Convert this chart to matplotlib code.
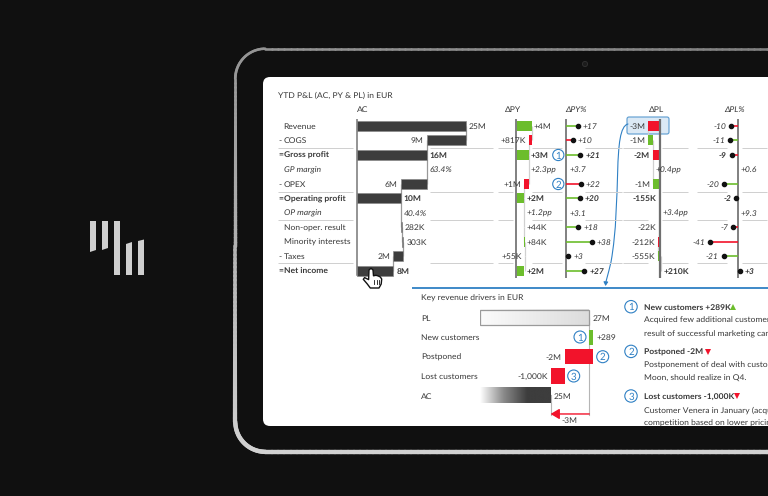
import numpy as np
import matplotlib
matplotlib.use('Agg')
import matplotlib.pyplot as plt
from matplotlib.collections import LineCollection
from matplotlib.patches import Circle, FancyArrowPatch, FancyBboxPatch, Polygon
from matplotlib.path import Path
from matplotlib.colors import LinearSegmentedColormap

plt.rcParams['font.family'] = ['Lato', 'DejaVu Sans']
plt.rcParams['text.hinting'] = 'no_hinting'
FS = 6.1

W, H = 768, 496
BG = '#101010'
TXT = '#383838'
GREEN = '#6cbd2c'
RED = '#f2132b'
BLUE = '#2f80c4'
DARK = '#3d3d3d'
NO = 'none'
VA = 'center_baseline'

# P&L table
categories = ['Revenue', 'COGS', 'Gross profit', 'GP margin', 'OPEX', 'Operating profit',
              'OP margin', 'Non-oper. result', 'Minority interests', 'Taxes', 'Net income']
prefixes = ['', '-', '=', '', '-', '=', '', '', '', '-', '=']
is_total = [True, False, True, False, False, True, False, False, False, False, True]
is_bold = [False, False, True, False, False, True, False, False, False, False, True]
is_margin = [False, False, False, True, False, False, True, False, False, False, False]

ac_values = [25, -9, 16, np.nan, -6, 10, np.nan, 0.282, 0.303, -2.3, 8.3]
ac_labels = ['25M', '9M', '16M', '63.4%', '6M', '10M', '40.4%', '282K', '303K', '2M', '8M']

py_values = [4, -0.817, 3.18, np.nan, -1.1, 2.08, np.nan, 0.044, 0.084, -0.055, 2.1]
py_colors = [GREEN, RED, GREEN, NO, RED, GREEN, NO, GREEN, GREEN, RED, GREEN]
py_labels = ['+4M', '+817K', '+3M', '+2.3pp', '+1M', '+2M', '+1.2pp', '+44K', '+84K', '+55K', '+2M']

py_pct = [17, 10, 21, np.nan, 22, 20, np.nan, 18, 38, 3, 27]
py_pct_colors = [GREEN, RED, GREEN, NO, RED, GREEN, NO, GREEN, GREEN, RED, GREEN]
py_pct_labels = ['+17', '+10', '+21', '+3.7', '+22', '+20', '+3.1', '+18', '+38', '+3', '+27']

pl_values = [-3, 1.25, -1.75, np.nan, 1.6, -0.155, np.nan, -0.022, -0.212, 0.6, 0.21]
pl_colors = [RED, GREEN, RED, NO, GREEN, RED, NO, RED, RED, GREEN, GREEN]
pl_labels = ['-3M', '-1M', '-2M', '+0.4pp', '-1M', '-155K', '+3.4pp', '-22K', '-212K', '-555K', '+210K']

pl_pct = [-10, -11, -9, np.nan, -20, -2, np.nan, -7, -41, -21, 3]
pl_pct_colors = [RED, GREEN, RED, NO, GREEN, RED, NO, RED, RED, GREEN, GREEN]
pl_pct_labels = ['-10', '-11', '-9', '+0.6', '-20', '-2', '+9.3', '-7', '-41', '-21', '+3']

# drivers
driver_names = ['PL', 'New customers', 'Postponed', 'Lost customers', 'AC']
driver_values = [27, 0.289, -2, -1, 24.29]
driver_labels = ['27M', '+289', '-2M', '-1,000K', '25M']
driver_total_label = '-3M'

notes = [('1', 'New customers +289K', ['Acquired few additional customers as a', 'result of successful marketing campaign']),
         ('2', 'Postponed -2M', ['Postponement of deal with customer', 'Moon, should realize in Q4.']),
         ('3', 'Lost customers -1,000K', ['Customer Venera in January (acquired by', 'competition based on lower pricing'])]

fig = plt.figure(figsize=(W / 100, H / 100), dpi=100, facecolor=BG)
page = fig.add_axes([0, 0, 1, 1])
page.set_xlim(0, W)
page.set_ylim(H, 0)
page.axis('off')


def px_axes(x0, x1, y0, y1, xlim, n):
    ax = fig.add_axes([x0 / W, 1 - y1 / H, (x1 - x0) / W, (y1 - y0) / H])
    ax.set_xlim(*xlim)
    ax.set_ylim(n - 0.5, -0.5)
    ax.axis('off')
    ax.patch.set_alpha(0)
    return ax


def label(ax, x, row, text, gap=0, bold=False, italic=False, size=FS, color=TXT):
    # gap in pixels, negative means the text sits left of x
    ax.annotate(text, (x, row), xytext=(gap * 0.72, 0), textcoords='offset points',
                ha='right' if gap < 0 else 'left', va=VA, fontsize=size, color=color,
                fontweight='bold' if bold else 'normal',
                fontstyle='italic' if italic else 'normal', annotation_clip=False)


# logo
for pts in [[(90, 221), (96, 221), (96, 250), (90, 252)],
            [(102, 221), (108, 221), (108, 248), (102, 250)],
            [(114, 221), (120, 221), (120, 275), (114, 275)],
            [(126, 244), (132, 242), (132, 275), (126, 275)],
            [(138, 241), (144, 239.5), (144, 275), (138, 275)]]:
    page.add_patch(Polygon(pts, closed=True, fc='#cfcfcf', ec='none'))

# tablet outline, brighter towards the bottom
r = 30
t = np.linspace(0, np.pi / 2, 30)
outline = np.vstack([
    [[W + 5, 48.7]],
    np.c_[235.3 + r - r * np.sin(t), 48.7 + r - r * np.cos(t)],
    np.c_[235.3 + r - r * np.cos(t), 451.8 - r + r * np.sin(t)],
    [[W + 5, 451.8]]])
dense = np.vstack([np.linspace(outline[i], outline[i + 1], 80, endpoint=False)
                   if np.hypot(*(outline[i + 1] - outline[i])) > 20 else [outline[i]]
                   for i in range(len(outline) - 1)] + [outline[-1:]])
segs = np.stack([dense[:-1], dense[1:]], axis=1)
frac = (segs[:, :, 1].mean(axis=1) - 48.7) / (451.8 - 48.7)
greys = 0.58 + 0.24 * frac
fade = np.clip((segs[:, :, 0].mean(axis=1) - 240) / 530, 0, 1) * (1 - frac)
greys = greys - 0.08 * fade
page.add_collection(LineCollection(segs, colors=np.c_[greys, greys, greys],
                                   linewidths=(2.0 + 1.4 * frac) * 0.72 * 1.3, capstyle='round'))
page.add_patch(Circle((585, 64), 2.6, fc='#1c1c1c', ec='#333333', lw=0.6))

# screen
screen = FancyBboxPatch((270, 84), W + 30 - 270, 335, boxstyle='round,pad=7', fc='white', ec='none')
page.add_patch(screen)

page.text(278, 95, 'YTD P&L (AC, PY & PL) in EUR', fontsize=FS, color=TXT, va=VA)
page.text(357, 109, 'AC', fontsize=FS, color=TXT, va=VA)
for x, s, it in [(513, 'ΔPY', False), (576, 'ΔPY%', True), (657, 'ΔPL', False), (735, 'ΔPL%', True)]:
    page.text(x, 109, s, fontsize=FS, color=TXT, va=VA, ha='center', fontstyle='italic' if it else 'normal')

# separators
for y in [148.3, 191.7, 220, 263.3]:
    for x0, x1 in [(278, 353), (430, 493), (498, 513), (532, 562), (585, 622), (623, 648),
                   (662, 688), (697, 727), (742, 767)]:
        page.plot([x0, x1], [y, y], color='#cfcfcf', lw=0.7, solid_capstyle='butt')

n = len(categories)
step = 14.47
top = 126 - step / 2
bottom = top + n * step
rows = np.arange(n)
bar_h = 0.69

names = px_axes(263, 357, top, bottom, (263, 357), n)
for i in rows:
    if prefixes[i]:
        names.text(278, i, prefixes[i], fontsize=FS, color=TXT, va=VA,
                   fontweight='bold' if is_bold[i] else 'normal')
    names.text(283.5, i, categories[i], fontsize=FS, color=TXT, va=VA,
               fontweight='bold' if is_bold[i] else 'normal',
               fontstyle='italic' if is_margin[i] else 'normal')


def waterfall(values):
    # left and right end of each bar, plus the running level after each row
    left, right, level = [], [], []
    cur = 0
    for v, tot in zip(values, is_total):
        if np.isnan(v):
            left.append(np.nan)
            right.append(np.nan)
        elif tot:
            left.append(min(0, v))
            right.append(max(0, v))
            cur = v
        else:
            left.append(min(cur, cur + v))
            right.append(max(cur, cur + v))
            cur = cur + v
        level.append(cur)
    return np.array(left), np.array(right), np.array(level)


def connectors(ax, level, color, lw=0.9):
    last = 0
    for i in range(1, n):
        if not is_margin[i]:
            ax.plot([level[last], level[last]], [last, i], color=color, lw=lw, zorder=1,
                    solid_capstyle='butt')
            last = i


# AC
ac_ax = px_axes(300, 500, top, bottom, ((300 - 357) / 4.36, (500 - 357) / 4.36), n)
l, rr, lev = waterfall(ac_values)
connectors(ac_ax, lev, '#999999')
ac_ax.barh(rows, rr - l, left=l, height=bar_h, color=DARK, edgecolor='#8a8a8a', linewidth=0.5, zorder=2)
ac_ax.axvline(0, ymin=0.02, ymax=1.0, color='#777777', lw=1.1, zorder=3)
for i in rows:
    if is_margin[i]:
        label(ac_ax, lev[i], i, ac_labels[i], gap=3, italic=True)
    elif ac_values[i] < 0:
        label(ac_ax, l[i], i, ac_labels[i], gap=-3)
    else:
        label(ac_ax, rr[i], i, ac_labels[i], gap=3, bold=is_bold[i])

# delta PY
py_ax = px_axes(495, 560, top, bottom, ((495 - 516) / 4.0, (560 - 516) / 4.0), n)
l, rr, lev = waterfall(py_values)
connectors(py_ax, lev, '#d0d0d0')
py_ax.barh(rows, rr - l, left=l, height=bar_h, color=py_colors, edgecolor='none', linewidth=0, zorder=2)
py_ax.axvline(0, ymin=0.0, ymax=1.0, color='#808080', lw=1.4, zorder=3)
for i in rows:
    if is_margin[i]:
        label(py_ax, lev[i], i, py_labels[i], gap=2, italic=True)
    elif py_values[i] < 0:
        label(py_ax, l[i], i, py_labels[i], gap=-2.5)
    else:
        label(py_ax, rr[i], i, py_labels[i], gap=2, bold=is_bold[i])


def lollipop(x0, x1, zero, scale, values, colors, labels):
    ax = px_axes(x0, x1, top, bottom, ((x0 - zero) / scale, (x1 - zero) / scale), n)
    for i in rows:
        if is_margin[i]:
            label(ax, 0, i, labels[i], gap=3, italic=True)
            continue
        v = values[i]
        ax.plot([0, v], [i, i], color=colors[i], lw=1.2, zorder=2, solid_capstyle='butt')
        ax.plot(v, i, 'o', color='#111111', ms=3, zorder=3)
        label(ax, v, i, labels[i], gap=5 if v > 0 else -5, bold=is_bold[i], italic=True)
    ax.axvline(0, color='#808080', lw=1.4, zorder=1)
    return ax


lollipop(560, 620, 566.3, 0.67, py_pct, py_pct_colors, py_pct_labels)
lollipop(695, 767, 737.7, 0.67, pl_pct, pl_pct_colors, pl_pct_labels)

# highlight box behind delta PL
page.add_patch(FancyBboxPatch((629, 119), 38, 13, boxstyle='round,pad=2', fc='#dbe9f5', ec='#5a9bd0', lw=0.8))

# delta PL
pl_ax = px_axes(625, 695, top, bottom, ((625 - 659.7) / 4.0, (695 - 659.7) / 4.0), n)
l, rr, lev = waterfall(pl_values)
connectors(pl_ax, lev, '#d0d0d0')
pl_ax.barh(rows, rr - l, left=l, height=bar_h, color=pl_colors, linewidth=0, zorder=2)
pl_ax.axvline(0, color='#6f6f6f', lw=1.6, zorder=3)
for i in rows:
    if is_margin[i]:
        label(pl_ax, lev[i], i, pl_labels[i], gap=3, italic=True)
    elif i == n - 1:
        label(pl_ax, rr[i], i, pl_labels[i], gap=3, bold=True)
    else:
        label(pl_ax, l[i], i, pl_labels[i], gap=-2.7, bold=is_bold[i])

# curved link down to the drivers panel
link = Path([(628, 124), (612, 128), (622, 200), (611, 262), (608, 275), (606, 280), (605.5, 286)],
            [Path.MOVETO, Path.CURVE4, Path.CURVE4, Path.CURVE4, Path.CURVE4, Path.CURVE4, Path.CURVE4])
page.add_patch(FancyArrowPatch(path=link, arrowstyle='-|>,head_width=1.3,head_length=2.2', color=BLUE, lw=0.8))
page.plot([412, W], [287.5, 287.5], color=BLUE, lw=1.3, solid_capstyle='butt')

page.text(421, 298, 'Key revenue drivers in EUR', fontsize=FS, color=TXT, va=VA)


# numbered circles
def badge(x, y, s, rad=5.6):
    page.add_patch(Circle((x, y), rad, fc='white', ec=BLUE, lw=0.8, zorder=6))
    page.text(x, y, s, fontsize=7, color=BLUE, ha='center', va=VA, zorder=7)


badge(558.3, 155, '1')
badge(558.3, 184, '2')

# drivers waterfall, truncated axis
m = len(driver_names)
dstep = 19.45
dtop = 317.7 - dstep / 2
dscale = 14.3
dzero_left = 27 - (589.3 - 480.3) / dscale
d_ax = px_axes(480.3, 640, dtop, dtop + m * dstep, (dzero_left, dzero_left + (640 - 480.3) / dscale), m)
dh = 0.78
for i, nm in enumerate(driver_names):
    page.text(421, 317.7 + i * dstep, nm, fontsize=FS, color=TXT, va=VA)

run = [driver_values[0]]
for v in driver_values[1:4]:
    run.append(run[-1] + v)
end_lvl = driver_values[4]

white_grey = LinearSegmentedColormap.from_list('wg', ['#fbfbfb', '#dcdcdc'])
white_dark = LinearSegmentedColormap.from_list('wd', ['#ffffff', '#8a8a8a', DARK, DARK])
grad = np.linspace(0, 1, 256).reshape(1, -1)

d_ax.imshow(grad, extent=[dzero_left, driver_values[0], dh / 2, -dh / 2], cmap=white_grey, aspect='auto', zorder=2)
d_ax.barh(0, driver_values[0] - dzero_left, left=dzero_left, height=dh, fc='none', ec='#9a9a9a', lw=0.9, zorder=3)
d_ax.imshow(grad, extent=[dzero_left, end_lvl, 4 + dh / 2, 4 - dh / 2], cmap=white_dark, aspect='auto', zorder=2)
d_ax.set_xlim(dzero_left, dzero_left + (640 - 480.3) / dscale)
d_ax.set_ylim(m - 0.5, -0.5)

d_colors = [GREEN, RED, RED]
for i in range(1, 4):
    d_ax.barh(i, driver_values[i], left=run[i - 1], height=dh, color=d_colors[i - 1], lw=0, zorder=2)

d_ax.plot([27, 27], [0, 4.98], color='#b5b5b5', lw=0.8, zorder=1, clip_on=False)
d_ax.plot([end_lvl, end_lvl], [4, 4.98], color='#b5b5b5', lw=0.8, zorder=1, clip_on=False)
d_ax.annotate('', xy=(end_lvl, 4.95), xytext=(27, 4.95), annotation_clip=False,
              arrowprops=dict(arrowstyle='-|>,head_width=1.3,head_length=2.2', mutation_scale=2.4,
                              color=RED, lw=1, shrinkA=0, shrinkB=0))
d_ax.text((27 + end_lvl) / 2, 5.28, driver_total_label, fontsize=FS, color=TXT, ha='center', va=VA, clip_on=False)

label(d_ax, driver_values[0], 0, driver_labels[0], gap=3)
label(d_ax, run[1], 1, driver_labels[1], gap=3.5)
label(d_ax, run[2], 2, driver_labels[2], gap=-3)
label(d_ax, run[3], 3, driver_labels[3], gap=-3)
label(d_ax, end_lvl, 4, driver_labels[4], gap=3)

badge(580, 337, '1', 6)
badge(602.7, 356.7, '2', 6)
badge(573.7, 376, '3', 6)

# notes on the right, cut off by the screen
note_y = [306.7, 351.4, 396]
for (num, head, body), y in zip(notes, note_y):
    badge(631, y, num, 6.2)
    page.text(644.5, y, head, fontsize=FS, fontweight='bold', color=TXT, va=VA, zorder=7)
    for k, line in enumerate(body):
        tx = page.text(644.5, y + 13.5 * (k + 1) - 0.3, line, fontsize=FS, color=TXT, va=VA, zorder=7)
        tx.set_clip_path(screen)
        tx.set_clip_on(True)
page.plot(733, 306.5, '^', color=GREEN, ms=4.4, mew=0, zorder=7)
page.plot(708, 351.5, 'v', color=RED, ms=4.4, mew=0, zorder=7)
page.plot(737, 396, 'v', color=RED, ms=4.4, mew=0, zorder=7)

# pointer over the net income bar, on its own axes so it sits on top
top_ax = fig.add_axes([0, 0, 1, 1])
top_ax.set_xlim(0, W)
top_ax.set_ylim(H, 0)
top_ax.axis('off')
top_ax.patch.set_alpha(0)
hand = [(369, 270), (371, 268.3), (373, 270), (373.5, 275.8), (376, 275.3), (378.3, 276), (380.3, 277),
        (381.7, 279), (381.2, 284), (379, 288), (370.3, 288), (367.3, 284), (363.3, 279.3), (364.6, 277.6), (368.6, 279.6)]
top_ax.add_patch(Polygon(hand, closed=True, fc='white', ec='#111111', lw=1.0, joinstyle='round'))
for x in [373.5, 376.5, 379]:
    top_ax.plot([x, x], [279.5, 284], color='#111111', lw=0.6)

fig.savefig('out.png', dpi=100, facecolor=BG)
